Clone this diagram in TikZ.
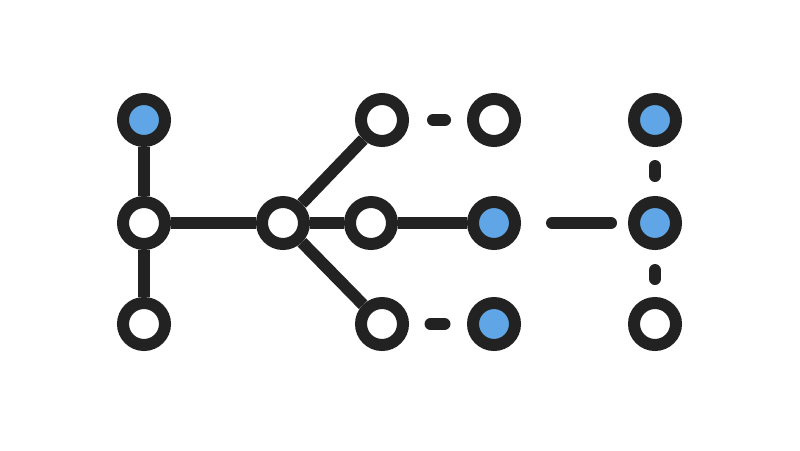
\documentclass[tikz,border=0pt]{standalone}
\definecolor{ink}{HTML}{222222}
\definecolor{dotblue}{HTML}{60A6E6}
\begin{document}
\begin{tikzpicture}[x=1pt,y=-1pt,
  nd/.style={circle,draw=ink,line width=12pt,minimum size=42pt,inner sep=0pt,fill=white},
  bl/.style={nd,fill=dotblue},
  link/.style={draw=ink,line width=12pt},
  gap/.style={draw=ink,line width=12pt,line cap=round}]
\fill[white] (0,0) rectangle (800,450);
\useasboundingbox (0,0) rectangle (800,450);
% nodes
\node[bl] (a1) at (144,120) {};
\node[nd] (a2) at (144,223) {};
\node[nd] (a3) at (144,324) {};
\node[nd] (h) at (283,223) {};
\node[nd] (b1) at (382,120) {};
\node[nd] (b2) at (371,223) {};
\node[nd] (b3) at (382,324) {};
\node[nd] (c1) at (494,120) {};
\node[bl] (c2) at (494,223) {};
\node[bl] (c3) at (494,324) {};
\node[bl] (d1) at (655,120) {};
\node[bl] (d2) at (655,223) {};
\node[nd] (d3) at (655,324) {};
% solid links
\path[link] (a1) -- (a2);
\path[link] (a2) -- (a3);
\path[link] (a2) -- (h);
\path[link] (h) -- (b1);
\path[link] (h) -- (b2);
\path[link] (h) -- (b3);
\path[link] (b2) -- (c2);
% broken links
\path[gap,shorten <=24pt,shorten >=22pt] (b1) -- (c1);
\path[gap,shorten <=21.5pt,shorten >=22.5pt] (b3) -- (c3);
\path[gap,shorten <=31pt,shorten >=17pt] (c2) -- (d2);
\path[gap,shorten <=19pt,shorten >=20pt] (d1) -- (d2);
\path[gap,shorten <=20pt,shorten >=18pt] (d2) -- (d3);
\end{tikzpicture}
\end{document}
